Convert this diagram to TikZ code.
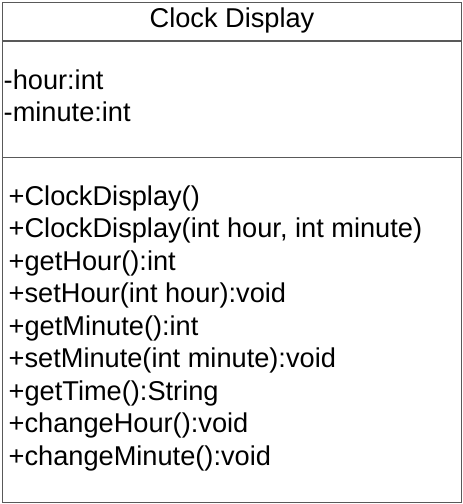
\documentclass[tikz,border=0pt]{standalone}
\usepackage{fontspec}
\setmainfont{Liberation Sans}
\begin{document}
\begin{tikzpicture}[x=1pt,y=1pt,
	every node/.style={inner sep=0pt, font=\fontsize{27.2}{32.5}\selectfont},
	umlbox/.style={draw=gray!70!black, line width=1.6pt},
	member/.style={anchor=base west}]
\useasboundingbox (0,0) rectangle (463,-504);
\node[umlbox, rectangle, minimum width=459pt, minimum height=500pt, anchor=north west] (box) at (1.8,-1.8) {};
\coordinate (headL) at (box.west |- 0,-41);
\coordinate (headR) at (box.east |- 0,-41);
\coordinate (sepL) at (box.west |- 0,-157.5);
\coordinate (sepR) at (box.east |- 0,-157.5);
\draw[umlbox] (headL) -- (headR);
\draw[umlbox] (sepL) -- (sepR);
\node[anchor=base] (title) at (232,-27) {Clock Display};
\node[member] (hour) at (3.5,-89.3) {-hour:int};
\node[member] (minute) at (3.5,-121.7) {-minute:int};
\foreach \m [count=\i] in {+ClockDisplay(), {+ClockDisplay(int hour, int minute)},
		+getHour():int, +setHour(int hour):void, +getMinute():int,
		+setMinute(int minute):void, +getTime():String,
		+changeHour():void, +changeMinute():void}
	\node[member] (m\i) at (8.5,-205-32.5*\i+32.5) {\m};
\end{tikzpicture}
\end{document}
